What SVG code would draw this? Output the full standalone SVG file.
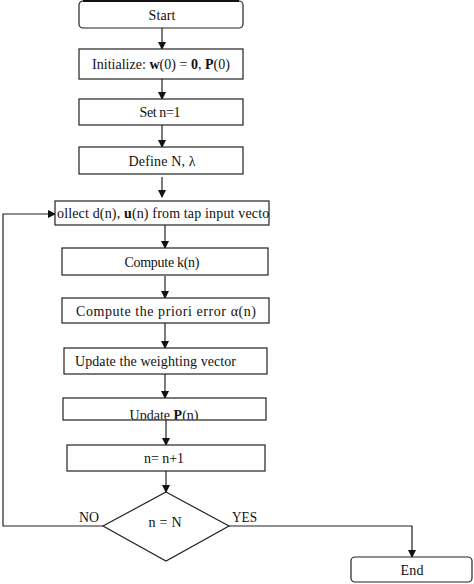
<svg xmlns="http://www.w3.org/2000/svg" width="474" height="584" viewBox="0 0 474 584">
<style>
.box{fill:#fff;stroke:#222;stroke-width:1.2}
.t{font-family:"Liberation Serif","Times New Roman",serif;font-size:14px;fill:#111;text-anchor:middle}
.tl{font-family:"Liberation Serif","Times New Roman",serif;font-size:14px;fill:#111}
.c{fill:none;stroke:#222;stroke-width:1.2}
.b{font-weight:bold}
</style>
<defs>
<marker id="ah" markerWidth="8" markerHeight="8" refX="7" refY="4" orient="auto" markerUnits="userSpaceOnUse">
<path d="M0,0 L8,4 L0,8 Z" fill="#111"/>
</marker>
<clipPath id="cc"><rect x="55" y="201" width="214" height="24"/></clipPath>
<clipPath id="cp"><rect x="63" y="398" width="203" height="21.5"/></clipPath>
</defs>
<rect width="474" height="584" fill="#fff"/>
<g id="connectors">
<line class="c" x1="162" y1="28" x2="162" y2="49" marker-end="url(#ah)"/>
<line class="c" x1="162" y1="79" x2="162" y2="99" marker-end="url(#ah)"/>
<line class="c" x1="162" y1="125" x2="162" y2="147" marker-end="url(#ah)"/>
<line class="c" x1="162" y1="177" x2="162" y2="197" marker-end="url(#ah)"/>
<line class="c" x1="165" y1="225" x2="165" y2="248" marker-end="url(#ah)"/>
<line class="c" x1="165" y1="276" x2="165" y2="298" marker-end="url(#ah)"/>
<line class="c" x1="165" y1="323" x2="165" y2="348" marker-end="url(#ah)"/>
<line class="c" x1="165" y1="374" x2="165" y2="398" marker-end="url(#ah)"/>
<line class="c" x1="166" y1="420" x2="166" y2="445" marker-end="url(#ah)"/>
<line class="c" x1="166" y1="471" x2="166" y2="492" marker-end="url(#ah)"/>
<polyline class="c" points="103,526 3,526 3,214 55,214" stroke-width="1.6" marker-end="url(#ah)"/>
<polyline class="c" points="229,526 412,526 412,557" marker-end="url(#ah)"/>
<text class="tl" x="79" y="522" textLength="20" lengthAdjust="spacingAndGlyphs">NO</text>
<text class="tl" x="232" y="522" textLength="25" lengthAdjust="spacingAndGlyphs">YES</text>
</g>
<g id="start">
<rect class="box" x="79" y="1" width="164" height="27" rx="4"/>
<line x1="83" y1="1" x2="239" y2="1" stroke="#111" stroke-width="2"/>
<text class="t" x="162" y="20" textLength="27">Start</text>
</g>
<g id="init">
<rect class="box" x="79" y="49" width="164" height="30"/>
<text class="t" x="161" y="69" textLength="138">Initialize:   <tspan class="b">w</tspan>(0) = <tspan class="b">0</tspan>, <tspan class="b">P</tspan>(0)</text>
</g>
<g id="setn">
<rect class="box" x="79" y="99" width="164" height="26"/>
<text class="t" x="160" y="117" textLength="41">Set n=1</text>
</g>
<g id="define">
<rect class="box" x="79" y="147" width="164" height="27"/>
<text class="t" x="162" y="166" textLength="67">Define N, λ</text>
</g>
<g id="collect">
<rect class="box" x="55" y="201" width="214" height="24"/>
<text class="tl" x="57" y="218" clip-path="url(#cc)" textLength="217">ollect d(n), <tspan class="b">u</tspan>(n) from tap input vector</text>
</g>
<g id="computek">
<rect class="box" x="62" y="248" width="206" height="27"/>
<text class="t" x="162" y="267" textLength="75">Compute k(n)</text>
</g>
<g id="computee">
<rect class="box" x="62" y="298" width="207" height="25"/>
<text class="t" x="166" y="316" textLength="180">Compute the priori  error α(n)</text>
</g>
<g id="updatew">
<rect class="box" x="64" y="348" width="203" height="26"/>
<text class="tl" x="75" y="366" textLength="161">Update the weighting  vector</text>
</g>
<g id="updatep">
<rect class="box" x="63" y="398" width="203" height="22"/>
<text class="t" x="164" y="419.5" clip-path="url(#cp)" textLength="69">Update <tspan class="b">P</tspan>(n)</text>
</g>
<g id="incr">
<rect class="box" x="67" y="445" width="198" height="26"/>
<text class="t" x="164" y="463" textLength="40">n= n+1</text>
</g>
<g id="decision">
<polygon class="box" points="166,492 229,526 166,561 103,526"/>
<text class="t" x="165" y="527" textLength="33">n = N</text>
</g>
<g id="end">
<rect class="box" x="351" y="557" width="121" height="25" rx="4"/>
<text class="t" x="412" y="575" textLength="23">End</text>
</g>
</svg>
